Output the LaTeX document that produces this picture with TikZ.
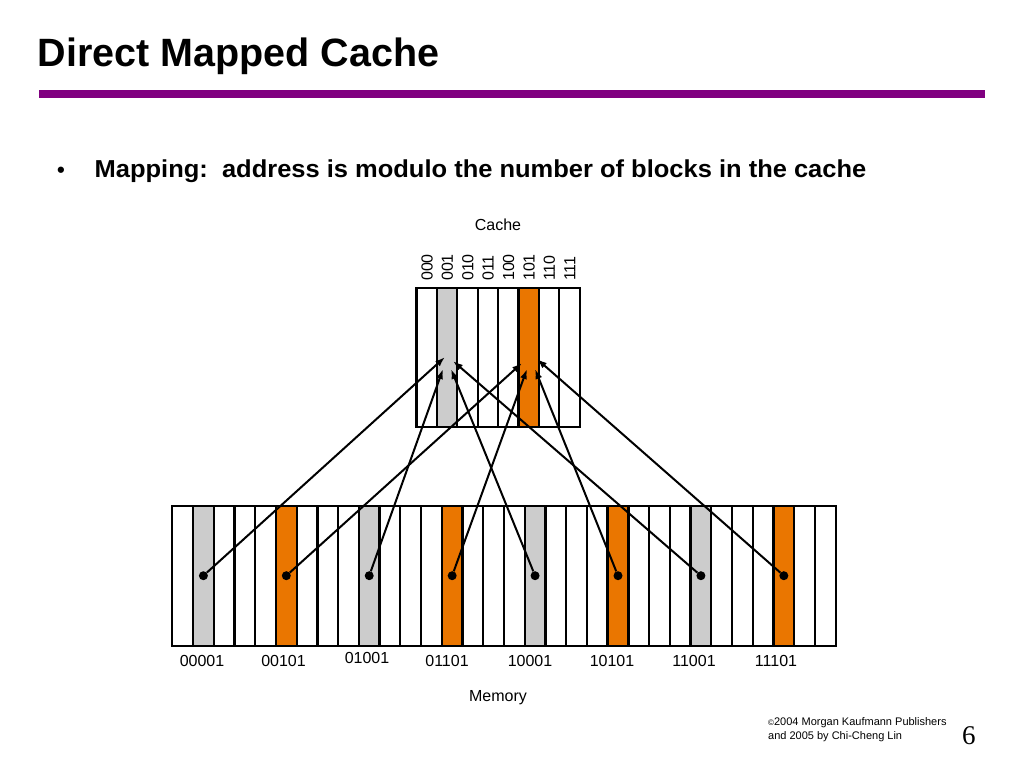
\documentclass[tikz,border=0pt]{standalone}
\usepackage{fontspec}
\setmainfont{Liberation Sans}
\newfontfamily\headfont[FakeStretch=1.04]{Liberation Sans}
\newfontfamily\pagefont{Liberation Serif}
\usetikzlibrary{arrows.meta}
\definecolor{slidepurple}{RGB}{128,0,128}
\definecolor{blockorange}{RGB}{234,118,0}
\definecolor{blockgrey}{RGB}{204,204,204}

\begin{document}
\begin{tikzpicture}[%
    x=1pt, y=-1pt,
    >={Latex[length=10pt,width=7pt]},
    small/.style={font=\fontsize{16}{16}\selectfont, inner sep=0pt},
    dot/.style={circle, fill=black, inner sep=0pt, minimum size=9pt},
    grid/.style={line width=2.3pt},
    link/.style={->, line width=2pt}
]
\useasboundingbox (0,0) rectangle (1024,768);

% title
\node[anchor=base west, inner sep=0pt, font=\bfseries\fontsize{39.5}{40}\selectfont] (title) at (37.5,66.7) {Direct Mapped Cache};
\fill[slidepurple] (39,89.5) rectangle (985,97.5);

% bullet
\node[anchor=base, inner sep=0pt, font=\bfseries\fontsize{22}{22}\selectfont] (bullet) at (61,177.3) {\textbullet};
\node[anchor=base west, inner sep=0pt, font=\headfont\bfseries\fontsize{24.5}{24}\selectfont] (point) at (94.5,177.3) {Mapping:\ \ address is modulo the number of blocks in the cache};

% cache
\fill[blockgrey]   (436.9,287.7) rectangle (457.3,426.7);
\fill[blockorange] (518.5,287.7) rectangle (538.9,426.7);
\foreach \i in {1,...,7}
    \draw[grid] ({416.5+20.4*\i},287.7) -- ({416.5+20.4*\i},426.7);
\draw[grid] (416.5,287.7) rectangle (579.7,426.7);
\foreach \b [count=\k from 0] in {000,001,010,011,100,101,110,111}
    \node[small, rotate=90, anchor=base west] (idx\k) at ({416.5+20.4*\k+16},281) {\b};
\node[small, anchor=base] (cachetext) at (498,230.7) {Cache};

% memory
\foreach \i in {1,5,...,29}
    \fill[blockorange] ({172.3+20.73*\i},505.7) rectangle ({172.3+20.73*(\i+1)},645.7);
\foreach \i in {1,9,...,25}
    \fill[blockgrey] ({172.3+20.73*\i},505.7) rectangle ({172.3+20.73*(\i+1)},645.7);
\foreach \i in {1,...,31}
    \draw[grid] ({172.3+20.73*\i},505.7) -- ({172.3+20.73*\i},645.7);
\draw[grid] (172.3,505.7) rectangle (835.7,645.7);
\node[small, anchor=base] (memtext) at (498,701) {Memory};

% blocks and where they go
\foreach \n/\i/\tx/\ty/\lx/\ly [count=\k] in {00001/1/445/357/202/666, 00101/5/522/363/283.5/666,
        01001/9/443/369/367/663.5, 01101/13/527/369/447/666, 10001/17/451/369/530/666,
        10101/21/535/369/612/666, 11001/25/453/361/694/666, 11101/29/537/359/776/666} {
    \node[dot] (m\k) at ({172.3+20.73*(\i+0.5)},575.7) {};
    \node[small, anchor=base] (addr\k) at (\lx,\ly) {\n};
    \coordinate (c\k) at (\tx,\ty);
    \draw[link] (m\k) -- (c\k);
}

% footer
\node[anchor=base west, inner sep=0pt, align=left, font=\fontsize{11}{14.5}\selectfont] (credit) at (768,739.5) {{\fontsize{8}{8}\selectfont\textcopyright}2004 Morgan Kaufmann Publishers\\and 2005 by Chi-Cheng Lin};
\node[anchor=base west, inner sep=0pt, font=\pagefont\fontsize{27}{27}\selectfont] (pagenum) at (962,744.5) {6};
\end{tikzpicture}
\end{document}
